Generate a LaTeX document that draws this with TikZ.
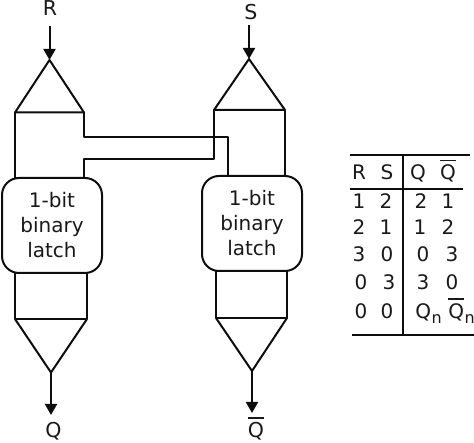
\documentclass[tikz,border=0pt]{standalone}
\usepackage{fontspec}
\setmainfont{DejaVu Sans}
\usetikzlibrary{arrows.meta}
\newlength{\qw}
\newcommand{\qbar}{\settowidth{\qw}{Q}\leavevmode\rlap{\rule[0.93em]{\qw}{1.5pt}}Q}
\newcommand{\subn}{\hspace{0.5pt}\raisebox{-5pt}{\fontsize{16}{16}\selectfont n}}
\tikzset{
  wire/.style={draw=black!95,line width=2pt,line join=round},
  arrowwire/.style={draw=black!95,line width=2pt,-{Triangle[width=12pt,length=11pt]}},
  latchbox/.style={draw=black!95,line width=2pt,rounded corners=17pt,fill=white,minimum width=100pt,minimum height=95pt,inner sep=0pt,align=center,text=black!90,font=\fontsize{20}{25}\selectfont},
  lbl/.style={inner sep=0pt,text=black!90,font=\fontsize{20.5}{24}\selectfont},
  cell/.style={inner sep=0pt,text=black!90,font=\fontsize{20}{24}\selectfont,anchor=base},
  rule/.style={draw=black!95,line width=2pt}
}
\begin{document}
\begin{tikzpicture}[x=1pt,y=-1pt]
\useasboundingbox (0,0) rectangle (474,443);
% left stack
\coordinate (Ra) at (49.5,26);
\coordinate (La) at (49.5,60);
\coordinate (Lb) at (15,112.5);
\coordinate (Lc) at (84,112.5);
\coordinate (Ld) at (15,178);
\coordinate (Le) at (84,178);
\coordinate (Lf) at (84,137);
\coordinate (Lg) at (84,159);
\coordinate (Lh) at (15,273);
\coordinate (Li) at (87,273);
\coordinate (Lj) at (15,319);
\coordinate (Lk) at (87,319);
\coordinate (Ll) at (51,372.5);
\coordinate (Qa) at (51,415);
% right stack
\coordinate (Sa) at (249,25);
\coordinate (Ra2) at (249,59);
\coordinate (Rb) at (214,110);
\coordinate (Rc) at (285,110);
\coordinate (Rd) at (285,176);
\coordinate (Re) at (214,159);
\coordinate (Rf) at (228,137);
\coordinate (Rg) at (228,176);
\coordinate (Rh) at (216,271.5);
\coordinate (Ri) at (287,271.5);
\coordinate (Rj) at (216,318);
\coordinate (Rk) at (287,318);
\coordinate (Rl) at (252,371);
\coordinate (Qb) at (252,413);
\node[lbl] (R) at (50,8.5) {R};
\node[lbl] (S) at (251,12) {S};
\node[lbl,anchor=base] (Q) at (53.5,438) {Q};
\node[lbl,anchor=base] (Qbar) at (256,438) {\qbar};
\draw[wire] (La) -- (Lb) -- (Lc) -- cycle;
\draw[wire] (Lb) -- (Ld);
\draw[wire] (Lc) -- (Lf) -- (Rf) -- (Rg);
\draw[wire] (Ra2) -- (Rb) -- (Rc) -- cycle;
\draw[wire] (Rb) -- (Re) -- (Lg) -- (Le);
\draw[wire] (Rc) -- (Rd);
\node[latchbox] (LB) at (52,225.5) {1-bit\\binary\\latch};
\node[latchbox] (RB) at (252,223.5) {1-bit\\binary\\latch};
\draw[wire] (Lh) -- (Lj) -- (Lk) -- (Li);
\draw[wire] (Lj) -- (Ll) -- (Lk);
\draw[wire] (Rh) -- (Rj) -- (Rk) -- (Ri);
\draw[wire] (Rj) -- (Rl) -- (Rk);
\draw[arrowwire] (Ra) -- (La);
\draw[arrowwire] (Sa) -- (Ra2);
\draw[arrowwire] (Ll) -- (Qa);
\draw[arrowwire] (Rl) -- (Qb);
% table
\coordinate (T1) at (350,154.7);
\coordinate (T2) at (470,154.7);
\coordinate (T3) at (350,188.7);
\coordinate (T4) at (463,188.7);
\coordinate (T5) at (352,335);
\coordinate (T6) at (474,335);
\coordinate (T7) at (403,154.7);
\coordinate (T8) at (403,335);
\draw[rule] (T1) -- (T2);
\draw[rule] (T3) -- (T4);
\draw[rule] (T5) -- (T6);
\draw[rule] (T7) -- (T8);
\node[cell] (h1) at (359,180) {R};
\node[cell] (h2) at (387,180) {S};
\node[cell] (h3) at (418,180) {Q};
\node[cell] (h4) at (448,180) {\qbar};
\node[cell] (a1) at (359,208.5) {1};
\node[cell] (a2) at (386,208.5) {2};
\node[cell] (a3) at (421,208.5) {2};
\node[cell] (a4) at (448,208.5) {1};
\node[cell] (b1) at (359,235) {2};
\node[cell] (b2) at (386,235) {1};
\node[cell] (b3) at (420,235) {1};
\node[cell] (b4) at (448,235) {2};
\node[cell] (c1) at (359,262) {3};
\node[cell] (c2) at (387,262) {0};
\node[cell] (c3) at (423,262) {0};
\node[cell] (c4) at (452,262) {3};
\node[cell] (d1) at (361,290) {0};
\node[cell] (d2) at (389,290) {3};
\node[cell] (d3) at (423,290) {3};
\node[cell] (d4) at (452,290) {0};
\node[cell] (e1) at (361,318.5) {0};
\node[cell] (e2) at (387,318.5) {0};
\node[cell] (e3) at (428.5,318.5) {Q\subn};
\node[cell] (e4) at (461.5,318.5) {\qbar\subn};
\end{tikzpicture}
\end{document}
